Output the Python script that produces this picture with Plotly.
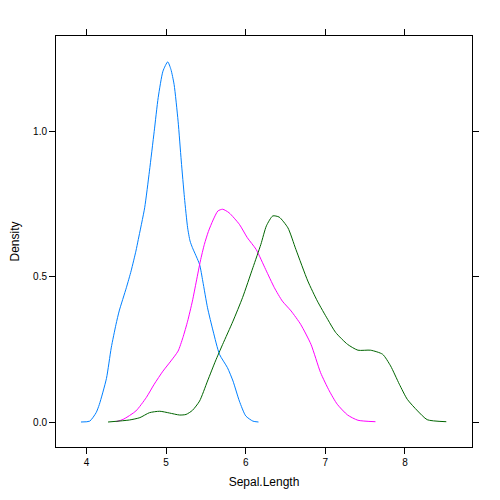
import plotly.graph_objects as go

# density curves (iris, Sepal.Length by species)
setosa_x = [3.93, 4.04, 4.12, 4.16, 4.25, 4.31, 4.37, 4.41, 4.50, 4.56, 4.62, 4.65, 4.73,
            4.79, 4.85, 4.90, 4.96, 5.02, 5.06, 5.10, 5.15, 5.19, 5.23, 5.27, 5.30, 5.33,
            5.42, 5.46, 5.52, 5.59, 5.67, 5.77, 5.84, 5.92, 6.00, 6.09, 6.16]
setosa_y = [0.0, 0.003, 0.032, 0.06, 0.15, 0.255, 0.336, 0.382, 0.462, 0.52, 0.588, 0.628,
            0.737, 0.863, 1.0, 1.116, 1.207, 1.239, 1.213, 1.161, 1.035, 0.898, 0.772,
            0.668, 0.623, 0.600, 0.542, 0.485, 0.393, 0.313, 0.233, 0.187, 0.141, 0.072,
            0.021, 0.003, 0.0]

versicolor_x = [4.37, 4.46, 4.62, 4.75, 4.85, 4.96, 5.06, 5.15, 5.21, 5.27, 5.33, 5.38,
                5.43, 5.48, 5.53, 5.59, 5.65, 5.71, 5.79, 5.92, 6.02, 6.13, 6.25, 6.36,
                6.46, 6.57, 6.69, 6.82, 6.94, 7.05, 7.15, 7.28, 7.41, 7.63]
versicolor_y = [0.001, 0.009, 0.038, 0.084, 0.13, 0.175, 0.21, 0.244, 0.29, 0.347, 0.416,
                0.485, 0.554, 0.611, 0.655, 0.695, 0.726, 0.732, 0.72, 0.68, 0.634, 0.594,
                0.525, 0.462, 0.416, 0.382, 0.336, 0.267, 0.17, 0.107, 0.061, 0.024,
                0.006, 0.001]

virginica_x = [4.27, 4.54, 4.67, 4.79, 4.92, 5.04, 5.17, 5.25, 5.33, 5.42, 5.52, 5.62,
               5.71, 5.84, 5.96, 6.09, 6.19, 6.26, 6.34, 6.42, 6.53, 6.63, 6.78, 6.90,
               7.03, 7.13, 7.28, 7.41, 7.57, 7.72, 7.82, 7.93, 8.03, 8.16, 8.28, 8.52]
virginica_y = [0.0, 0.007, 0.015, 0.032, 0.037, 0.031, 0.024, 0.026, 0.04, 0.072, 0.141,
               0.21, 0.267, 0.347, 0.428, 0.531, 0.611, 0.675, 0.709, 0.705, 0.668, 0.594,
               0.485, 0.416, 0.353, 0.308, 0.267, 0.247, 0.247, 0.233, 0.193, 0.13,
               0.078, 0.038, 0.008, 0.001]

x_ticks = [4, 5, 6, 7, 8]
y_ticks = [0.0, 0.5, 1.0]
y_tick_labels = ["0.0", "0.5", "1.0"]

fig = go.Figure()
for xs, ys, col in [(setosa_x, setosa_y, "#0080ff"),
                    (versicolor_x, versicolor_y, "#ff00ff"),
                    (virginica_x, virginica_y, "#006400")]:
    fig.add_trace(go.Scatter(x=xs, y=ys, mode="lines", line=dict(color=col, width=1, shape="spline", smoothing=0.6),
                             showlegend=False))

axis_style = dict(showline=True, linecolor="black", linewidth=1, mirror="ticks",
                  ticks="outside", ticklen=6, tickcolor="black", showgrid=False,
                  zeroline=False, automargin=False, tickfont=dict(size=10, color="black"))

# page adds ~7px offset, margins compensate
fig.update_layout(
    width=500, height=500,
    margin=dict(l=48, r=36, t=28, b=61),
    plot_bgcolor="white", paper_bgcolor="white",
    font=dict(family="Liberation Sans, Arial", color="black"),
    xaxis=dict(range=[3.616, 8.843], tickvals=x_ticks, title=dict(text="Sepal.Length", font=dict(size=12), standoff=10),
               **axis_style),
    yaxis=dict(range=[-0.086, 1.328], tickvals=y_ticks, ticktext=y_tick_labels,
               title=dict(text="Density", font=dict(size=12), standoff=18), **axis_style),
)

fig.write_html("out.html")
